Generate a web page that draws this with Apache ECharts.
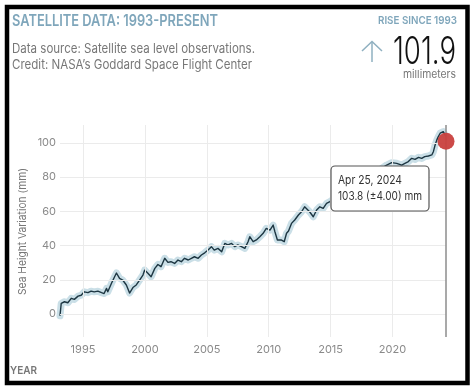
<!DOCTYPE html>
<html><head><meta charset="utf-8">
<script src="https://cdn.jsdelivr.net/npm/echarts@6/dist/echarts.min.js"></script>
<style>html,body{margin:0;padding:0;background:#fff;}#c{width:474px;height:388px;}</style>
</head><body><div id="c"></div>
<script>
// ---- data ----
const years = [
  1993.14, 1993.24, 1993.5, 1993.77, 1994.05, 1994.3, 1994.6, 1994.85, 1995.1, 1995.4,
  1995.65, 1995.9, 1996.2, 1996.5, 1996.7, 1996.9, 1997.0, 1997.3, 1997.55, 1997.7,
  1997.95, 1998.2, 1998.5, 1998.76, 1999.03, 1999.3, 1999.57, 1999.84, 1999.98, 2000.24,
  2000.5, 2000.8, 2001.05, 2001.3, 2001.6, 2001.86, 2002.1, 2002.4, 2002.67, 2002.94,
  2003.2, 2003.5, 2003.75, 2004.0, 2004.3, 2004.56, 2004.83, 2005.1, 2005.37, 2005.6,
  2005.9, 2006.2, 2006.45, 2006.7, 2007.0, 2007.26, 2007.5, 2007.8, 2008.07, 2008.33,
  2008.47, 2008.74, 2009.0, 2009.28, 2009.55, 2009.8, 2010.1, 2010.36, 2010.5, 2010.7,
  2011.0, 2011.25, 2011.44, 2011.6, 2011.84, 2012.1, 2012.4, 2012.65, 2012.9, 2013.06,
  2013.3, 2013.6, 2013.87, 2014.13, 2014.4, 2014.67, 2014.94, 2015.2, 2015.5, 2015.8,
  2016.1, 2016.4, 2016.7, 2017.0, 2017.3, 2017.6, 2017.9, 2018.2, 2018.5, 2018.8,
  2019.1, 2019.3, 2019.53, 2019.93, 2020.34, 2020.74, 2021.0, 2021.28, 2021.55, 2021.82,
  2022.1, 2022.36, 2022.6, 2022.9, 2023.17, 2023.3, 2023.44, 2023.58, 2023.7, 2023.85,
  2024.0, 2024.1, 2024.25, 2024.32
];
const seaLevel = [
  -1, 6.3, 7.2, 6.6, 9.2, 8.6, 10.5, 11, 13, 12.5,
  13.4, 13, 13.4, 12.5, 12, 15, 13, 18, 21.8, 24,
  20.9, 19.9, 17, 12.3, 15.5, 17, 19.9, 22.8, 25.7, 23.8,
  21.8, 26.7, 29, 27.7, 32.6, 30.2, 30.6, 29.6, 31.6, 30.6,
  32.6, 31.6, 32.6, 33.5, 32.6, 34.5, 35.8, 37.4, 39.4, 37.4,
  38.4, 36.4, 41.3, 40.4, 41.3, 39.4, 40.4, 39.4, 38.4, 42.3,
  45.2, 42.3, 43.3, 45.2, 47.2, 50.1, 49.1, 52, 48.1, 43.3,
  43.3, 42.3, 47.2, 48.5, 53, 55, 57.9, 59.8, 62.7, 61.8,
  59.8, 56.9, 60.8, 62.7, 61.8, 64.7, 65.7, 67, 69, 72,
  74, 72, 73, 75, 77, 76, 78, 79, 81, 83,
  85, 86, 87.1, 88.5, 88.1, 87.1, 88.1, 89.1, 91, 90.4,
  91.6, 91, 92, 92.4, 93, 94.9, 98.8, 101.8, 103.7, 105.7,
  104.7, 106.6, 104.7, 103.8
];
const xTicks = [1995, 2000, 2005, 2010, 2015, 2020];
const yTicks = [0, 20, 40, 60, 80, 100];
const highlightYear = 2024.32;
const highlightValue = 101;
const tooltipDate = 'Apr 25, 2024';
const tooltipValue = '103.8 (±4.00) mm';
const riseValue = '101.9';

// ---- rendering ----
const FONT = 'Inter, "Noto Sans", sans-serif';
const mctx = document.createElement('canvas').getContext('2d');
function measure(t, size, weight) { mctx.font = weight + ' ' + size + 'px ' + FONT; return mctx.measureText(t).width; }
function fitText(text, x, y, size, weight, color, width, align, rotation, z) {
  const s = width / measure(text, size, weight);
  return { type: 'text', x: x, y: y, scaleX: s, rotation: rotation || 0, silent: true, z: z || 10,
    style: { text: text, fontSize: size, fontWeight: weight, fontFamily: FONT, fill: color,
             align: align || 'left', verticalAlign: 'middle' } };
}
const points = years.map((y, i) => [y, seaLevel[i]]);
const chart = echarts.init(document.getElementById('c'), null, { renderer: 'canvas' });
const labelColor = '#8a8a8a';
chart.setOption({
  animation: false,
  backgroundColor: '#ffffff',
  grid: { left: 60, right: 28, top: 125, bottom: 51, containLabel: false, outerBoundsMode: 'none' },
  xAxis: {
    type: 'value', min: years[0], max: years[years.length - 1],
    axisLine: { show: false }, axisTick: { show: false }, splitLine: { show: false },
    axisLabel: { customValues: xTicks, color: labelColor, fontSize: 11, fontFamily: FONT, margin: 7,
      formatter: v => String(Math.round(v)) }
  },
  yAxis: {
    type: 'value', min: -13.4, max: 110.5,
    axisLine: { show: false }, axisTick: { show: false }, splitLine: { show: false },
    axisLabel: { customValues: yTicks, color: labelColor, fontSize: 11, fontFamily: FONT, margin: 4,
      formatter: v => String(Math.round(v)) }
  },
  series: [
    { type: 'line', data: [], z: 1, silent: true,
      markLine: { silent: true, symbol: ['none', 'none'], label: { show: false }, animation: false,
        lineStyle: { color: '#ebebeb', width: 1, type: 'solid' },
        data: yTicks.map(v => ({ yAxis: v })).concat(xTicks.map(v => ({ xAxis: v }))) } },
    { type: 'line', data: points, z: 2, silent: true, showSymbol: false, symbol: 'none',
      lineStyle: { color: '#cadfe7', width: 7, join: 'round', cap: 'round' } },
    { type: 'line', data: points, z: 3, silent: true, showSymbol: false, symbol: 'none',
      lineStyle: { color: '#1d3642', width: 1.4, join: 'round' },
      markLine: { silent: true, symbol: ['none', 'none'], label: { show: false }, animation: false,
        lineStyle: { color: '#8c8c8c', width: 1.5, type: 'solid' },
        data: [{ xAxis: highlightYear }] } },
    { type: 'scatter', data: [[highlightYear, highlightValue]], z: 5, silent: true,
      symbolSize: 17, itemStyle: { color: '#c9403e', opacity: 0.95 } }
  ],
  graphic: [
    { type: 'rect', shape: { x: 7, y: 7, width: 460.5, height: 376 }, silent: true, z: 20,
      style: { fill: 'none', stroke: '#000', lineWidth: 4.5 } },
    fitText('SATELLITE DATA: 1993-PRESENT', 12, 21.5, 16, 600, '#7fa6bb', 206),
    fitText('RISE SINCE 1993', 457, 21, 11, 600, '#7fa6bb', 79, 'right'),
    fitText('Data source: Satellite sea level observations.', 12, 49.5, 13, 400, '#777777', 243),
    fitText('Credit: NASA\u2019s Goddard Space Flight Center', 12, 65, 13, 400, '#777777', 240),
    { type: 'polyline', silent: true, z: 10, shape: { points: [[372, 62], [372, 42]] },
      style: { stroke: '#8fb0c0', lineWidth: 1.5, fill: 'none' } },
    { type: 'polyline', silent: true, z: 10, shape: { points: [[362, 51], [372, 41.5], [382, 51]] },
      style: { stroke: '#8fb0c0', lineWidth: 1.5, fill: 'none' } },
    fitText(riseValue, 456, 52.5, 38, 300, '#111111', 63, 'right'),
    fitText('millimeters', 456, 75, 11, 400, '#777777', 53, 'right'),
    fitText('Sea Height Variation (mm)', 22.5, 231.5, 11, 400, '#777777', 127, 'center', Math.PI / 2),
    fitText('YEAR', 10, 371, 11, 600, '#777777', 27),
    { type: 'rect', silent: true, z: 12, shape: { x: 331, y: 166, width: 98, height: 45, r: 4 },
      style: { fill: '#ffffff', stroke: '#555555', lineWidth: 1.2 } },
    fitText(tooltipDate, 338, 181, 11.5, 400, '#333333', 64, 'left', 0, 14),
    fitText(tooltipValue, 338, 196.5, 11.5, 400, '#333333', 84, 'left', 0, 14)
  ]
});
</script>
</body></html>
